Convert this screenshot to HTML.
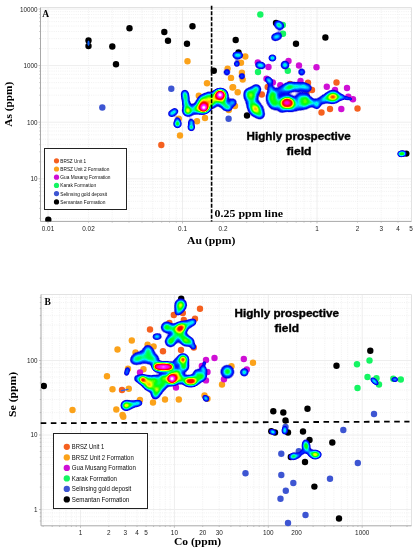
<!DOCTYPE html>
<html lang="en"><head><meta charset="utf-8"><title>Figure: As vs Au and Se vs Co</title>
<style>
html,body{margin:0;padding:0;background:#fff;}
body{width:416px;height:550px;overflow:hidden;}
svg{display:block;}
.sa{font-family:"Liberation Sans","DejaVu Sans",sans-serif;}
.sb{font-family:"Liberation Sans","DejaVu Sans",sans-serif;font-weight:bold;stroke:#000;stroke-width:0.35px;}
.se{font-family:"Liberation Serif","DejaVu Serif",serif;font-weight:bold;}
</style></head><body>
<svg width="416" height="550" viewBox="0 0 416 550"><defs><radialGradient id="k"><stop offset="0.000" stop-color="#fff" stop-opacity="1.0000"/><stop offset="0.083" stop-color="#fff" stop-opacity="0.9692"/><stop offset="0.167" stop-color="#fff" stop-opacity="0.8825"/><stop offset="0.250" stop-color="#fff" stop-opacity="0.7548"/><stop offset="0.333" stop-color="#fff" stop-opacity="0.6065"/><stop offset="0.417" stop-color="#fff" stop-opacity="0.4578"/><stop offset="0.500" stop-color="#fff" stop-opacity="0.3247"/><stop offset="0.583" stop-color="#fff" stop-opacity="0.2163"/><stop offset="0.667" stop-color="#fff" stop-opacity="0.1353"/><stop offset="0.750" stop-color="#fff" stop-opacity="0.0796"/><stop offset="0.833" stop-color="#fff" stop-opacity="0.0439"/><stop offset="0.917" stop-color="#fff" stop-opacity="0.0228"/><stop offset="1.000" stop-color="#fff" stop-opacity="0.0000"/></radialGradient><filter id="heat" x="0" y="0" width="416" height="550" filterUnits="userSpaceOnUse" color-interpolation-filters="sRGB">
<feColorMatrix type="matrix" values="0 0 0 1 0  0 0 0 1 0  0 0 0 1 0  0 0 0 1 0"/>
<feComponentTransfer><feFuncR type="table" tableValues="0 0 0 0 0 0 0 0 0 0 0 0 0 0 0.1 0.4 0.75 1 1 1 1 1 1 1 1 1 1 1 1 1 1 1 1 1 1 1 1 1 1 1 1"/><feFuncG type="table" tableValues="0 0 0 0 0 0 0.06 0.2 0.4 0.65 0.95 1 1 1 1 1 1 1 0.8 0.55 0.3 0.12 0 0 0 0 0 0 0 0 0 0 0.1 0.2 0.35 0.5 0.7 0.85 1 1 1"/><feFuncB type="table" tableValues="0.8 0.8 0.8 0.8 0.8 0.92 1 1 1 1 1 0.6 0.3 0.1 0 0 0 0 0 0 0 0 0 0 0.1 0.2 0.35 0.5 0.7 0.85 1 1 1 1 1 1 1 1 1 1 1"/><feFuncA type="table" tableValues="0 0 0 0 0.5 1 1 1 1 1 1 1 1 1 1 1 1 1 1 1 1 1 1 1 1 1 1 1 1 1 1 1 1 1 1 1 1 1 1 1 1"/></feComponentTransfer>
</filter><clipPath id="ca"><rect x="40.5" y="7.5" width="371.0" height="213.9"/></clipPath><clipPath id="cb"><rect x="41.0" y="294.5" width="370.5" height="231.29999999999995"/></clipPath></defs><rect width="416" height="550" fill="#fff"/><line x1="48.0" y1="7.5" x2="48.0" y2="221.4" stroke="#eeeeee" stroke-width="1"/><line x1="48.0" y1="221.4" x2="48.0" y2="223.4" stroke="#999" stroke-width="0.6"/><line x1="88.5" y1="7.5" x2="88.5" y2="221.4" stroke="#ebebeb" stroke-width="0.7" stroke-dasharray="1 1.2"/><line x1="88.5" y1="221.4" x2="88.5" y2="222.6" stroke="#999" stroke-width="0.6"/><line x1="112.2" y1="7.5" x2="112.2" y2="221.4" stroke="#ebebeb" stroke-width="0.7" stroke-dasharray="1 1.2"/><line x1="112.2" y1="221.4" x2="112.2" y2="222.6" stroke="#999" stroke-width="0.6"/><line x1="129.0" y1="7.5" x2="129.0" y2="221.4" stroke="#ebebeb" stroke-width="0.7" stroke-dasharray="1 1.2"/><line x1="129.0" y1="221.4" x2="129.0" y2="222.6" stroke="#999" stroke-width="0.6"/><line x1="142.0" y1="7.5" x2="142.0" y2="221.4" stroke="#ebebeb" stroke-width="0.7" stroke-dasharray="1 1.2"/><line x1="142.0" y1="221.4" x2="142.0" y2="222.6" stroke="#999" stroke-width="0.6"/><line x1="152.7" y1="7.5" x2="152.7" y2="221.4" stroke="#ebebeb" stroke-width="0.7" stroke-dasharray="1 1.2"/><line x1="152.7" y1="221.4" x2="152.7" y2="222.6" stroke="#999" stroke-width="0.6"/><line x1="161.7" y1="7.5" x2="161.7" y2="221.4" stroke="#ebebeb" stroke-width="0.7" stroke-dasharray="1 1.2"/><line x1="161.7" y1="221.4" x2="161.7" y2="222.6" stroke="#999" stroke-width="0.6"/><line x1="169.5" y1="7.5" x2="169.5" y2="221.4" stroke="#ebebeb" stroke-width="0.7" stroke-dasharray="1 1.2"/><line x1="169.5" y1="221.4" x2="169.5" y2="222.6" stroke="#999" stroke-width="0.6"/><line x1="176.3" y1="7.5" x2="176.3" y2="221.4" stroke="#ebebeb" stroke-width="0.7" stroke-dasharray="1 1.2"/><line x1="176.3" y1="221.4" x2="176.3" y2="222.6" stroke="#999" stroke-width="0.6"/><line x1="182.5" y1="7.5" x2="182.5" y2="221.4" stroke="#eeeeee" stroke-width="1"/><line x1="182.5" y1="221.4" x2="182.5" y2="223.4" stroke="#999" stroke-width="0.6"/><line x1="223.0" y1="7.5" x2="223.0" y2="221.4" stroke="#ebebeb" stroke-width="0.7" stroke-dasharray="1 1.2"/><line x1="223.0" y1="221.4" x2="223.0" y2="222.6" stroke="#999" stroke-width="0.6"/><line x1="246.7" y1="7.5" x2="246.7" y2="221.4" stroke="#ebebeb" stroke-width="0.7" stroke-dasharray="1 1.2"/><line x1="246.7" y1="221.4" x2="246.7" y2="222.6" stroke="#999" stroke-width="0.6"/><line x1="263.5" y1="7.5" x2="263.5" y2="221.4" stroke="#ebebeb" stroke-width="0.7" stroke-dasharray="1 1.2"/><line x1="263.5" y1="221.4" x2="263.5" y2="222.6" stroke="#999" stroke-width="0.6"/><line x1="276.5" y1="7.5" x2="276.5" y2="221.4" stroke="#ebebeb" stroke-width="0.7" stroke-dasharray="1 1.2"/><line x1="276.5" y1="221.4" x2="276.5" y2="222.6" stroke="#999" stroke-width="0.6"/><line x1="287.2" y1="7.5" x2="287.2" y2="221.4" stroke="#ebebeb" stroke-width="0.7" stroke-dasharray="1 1.2"/><line x1="287.2" y1="221.4" x2="287.2" y2="222.6" stroke="#999" stroke-width="0.6"/><line x1="296.2" y1="7.5" x2="296.2" y2="221.4" stroke="#ebebeb" stroke-width="0.7" stroke-dasharray="1 1.2"/><line x1="296.2" y1="221.4" x2="296.2" y2="222.6" stroke="#999" stroke-width="0.6"/><line x1="304.0" y1="7.5" x2="304.0" y2="221.4" stroke="#ebebeb" stroke-width="0.7" stroke-dasharray="1 1.2"/><line x1="304.0" y1="221.4" x2="304.0" y2="222.6" stroke="#999" stroke-width="0.6"/><line x1="310.8" y1="7.5" x2="310.8" y2="221.4" stroke="#ebebeb" stroke-width="0.7" stroke-dasharray="1 1.2"/><line x1="310.8" y1="221.4" x2="310.8" y2="222.6" stroke="#999" stroke-width="0.6"/><line x1="317.0" y1="7.5" x2="317.0" y2="221.4" stroke="#eeeeee" stroke-width="1"/><line x1="317.0" y1="221.4" x2="317.0" y2="223.4" stroke="#999" stroke-width="0.6"/><line x1="357.5" y1="7.5" x2="357.5" y2="221.4" stroke="#ebebeb" stroke-width="0.7" stroke-dasharray="1 1.2"/><line x1="357.5" y1="221.4" x2="357.5" y2="222.6" stroke="#999" stroke-width="0.6"/><line x1="381.2" y1="7.5" x2="381.2" y2="221.4" stroke="#ebebeb" stroke-width="0.7" stroke-dasharray="1 1.2"/><line x1="381.2" y1="221.4" x2="381.2" y2="222.6" stroke="#999" stroke-width="0.6"/><line x1="398.0" y1="7.5" x2="398.0" y2="221.4" stroke="#ebebeb" stroke-width="0.7" stroke-dasharray="1 1.2"/><line x1="398.0" y1="221.4" x2="398.0" y2="222.6" stroke="#999" stroke-width="0.6"/><line x1="40.5" y1="218.4" x2="411.5" y2="218.4" stroke="#ebebeb" stroke-width="0.7" stroke-dasharray="1 1.2"/><line x1="39.3" y1="218.4" x2="40.5" y2="218.4" stroke="#999" stroke-width="0.6"/><line x1="40.5" y1="208.4" x2="411.5" y2="208.4" stroke="#ebebeb" stroke-width="0.7" stroke-dasharray="1 1.2"/><line x1="39.3" y1="208.4" x2="40.5" y2="208.4" stroke="#999" stroke-width="0.6"/><line x1="40.5" y1="201.3" x2="411.5" y2="201.3" stroke="#ebebeb" stroke-width="0.7" stroke-dasharray="1 1.2"/><line x1="39.3" y1="201.3" x2="40.5" y2="201.3" stroke="#999" stroke-width="0.6"/><line x1="40.5" y1="195.8" x2="411.5" y2="195.8" stroke="#ebebeb" stroke-width="0.7" stroke-dasharray="1 1.2"/><line x1="39.3" y1="195.8" x2="40.5" y2="195.8" stroke="#999" stroke-width="0.6"/><line x1="40.5" y1="191.4" x2="411.5" y2="191.4" stroke="#ebebeb" stroke-width="0.7" stroke-dasharray="1 1.2"/><line x1="39.3" y1="191.4" x2="40.5" y2="191.4" stroke="#999" stroke-width="0.6"/><line x1="40.5" y1="187.6" x2="411.5" y2="187.6" stroke="#ebebeb" stroke-width="0.7" stroke-dasharray="1 1.2"/><line x1="39.3" y1="187.6" x2="40.5" y2="187.6" stroke="#999" stroke-width="0.6"/><line x1="40.5" y1="184.3" x2="411.5" y2="184.3" stroke="#ebebeb" stroke-width="0.7" stroke-dasharray="1 1.2"/><line x1="39.3" y1="184.3" x2="40.5" y2="184.3" stroke="#999" stroke-width="0.6"/><line x1="40.5" y1="181.4" x2="411.5" y2="181.4" stroke="#ebebeb" stroke-width="0.7" stroke-dasharray="1 1.2"/><line x1="39.3" y1="181.4" x2="40.5" y2="181.4" stroke="#999" stroke-width="0.6"/><line x1="40.5" y1="178.8" x2="411.5" y2="178.8" stroke="#eeeeee" stroke-width="1"/><line x1="38.5" y1="178.8" x2="40.5" y2="178.8" stroke="#999" stroke-width="0.6"/><line x1="40.5" y1="161.8" x2="411.5" y2="161.8" stroke="#ebebeb" stroke-width="0.7" stroke-dasharray="1 1.2"/><line x1="39.3" y1="161.8" x2="40.5" y2="161.8" stroke="#999" stroke-width="0.6"/><line x1="40.5" y1="151.8" x2="411.5" y2="151.8" stroke="#ebebeb" stroke-width="0.7" stroke-dasharray="1 1.2"/><line x1="39.3" y1="151.8" x2="40.5" y2="151.8" stroke="#999" stroke-width="0.6"/><line x1="40.5" y1="144.7" x2="411.5" y2="144.7" stroke="#ebebeb" stroke-width="0.7" stroke-dasharray="1 1.2"/><line x1="39.3" y1="144.7" x2="40.5" y2="144.7" stroke="#999" stroke-width="0.6"/><line x1="40.5" y1="139.2" x2="411.5" y2="139.2" stroke="#ebebeb" stroke-width="0.7" stroke-dasharray="1 1.2"/><line x1="39.3" y1="139.2" x2="40.5" y2="139.2" stroke="#999" stroke-width="0.6"/><line x1="40.5" y1="134.8" x2="411.5" y2="134.8" stroke="#ebebeb" stroke-width="0.7" stroke-dasharray="1 1.2"/><line x1="39.3" y1="134.8" x2="40.5" y2="134.8" stroke="#999" stroke-width="0.6"/><line x1="40.5" y1="131.0" x2="411.5" y2="131.0" stroke="#ebebeb" stroke-width="0.7" stroke-dasharray="1 1.2"/><line x1="39.3" y1="131.0" x2="40.5" y2="131.0" stroke="#999" stroke-width="0.6"/><line x1="40.5" y1="127.7" x2="411.5" y2="127.7" stroke="#ebebeb" stroke-width="0.7" stroke-dasharray="1 1.2"/><line x1="39.3" y1="127.7" x2="40.5" y2="127.7" stroke="#999" stroke-width="0.6"/><line x1="40.5" y1="124.8" x2="411.5" y2="124.8" stroke="#ebebeb" stroke-width="0.7" stroke-dasharray="1 1.2"/><line x1="39.3" y1="124.8" x2="40.5" y2="124.8" stroke="#999" stroke-width="0.6"/><line x1="40.5" y1="122.2" x2="411.5" y2="122.2" stroke="#eeeeee" stroke-width="1"/><line x1="38.5" y1="122.2" x2="40.5" y2="122.2" stroke="#999" stroke-width="0.6"/><line x1="40.5" y1="105.2" x2="411.5" y2="105.2" stroke="#ebebeb" stroke-width="0.7" stroke-dasharray="1 1.2"/><line x1="39.3" y1="105.2" x2="40.5" y2="105.2" stroke="#999" stroke-width="0.6"/><line x1="40.5" y1="95.2" x2="411.5" y2="95.2" stroke="#ebebeb" stroke-width="0.7" stroke-dasharray="1 1.2"/><line x1="39.3" y1="95.2" x2="40.5" y2="95.2" stroke="#999" stroke-width="0.6"/><line x1="40.5" y1="88.1" x2="411.5" y2="88.1" stroke="#ebebeb" stroke-width="0.7" stroke-dasharray="1 1.2"/><line x1="39.3" y1="88.1" x2="40.5" y2="88.1" stroke="#999" stroke-width="0.6"/><line x1="40.5" y1="82.6" x2="411.5" y2="82.6" stroke="#ebebeb" stroke-width="0.7" stroke-dasharray="1 1.2"/><line x1="39.3" y1="82.6" x2="40.5" y2="82.6" stroke="#999" stroke-width="0.6"/><line x1="40.5" y1="78.2" x2="411.5" y2="78.2" stroke="#ebebeb" stroke-width="0.7" stroke-dasharray="1 1.2"/><line x1="39.3" y1="78.2" x2="40.5" y2="78.2" stroke="#999" stroke-width="0.6"/><line x1="40.5" y1="74.4" x2="411.5" y2="74.4" stroke="#ebebeb" stroke-width="0.7" stroke-dasharray="1 1.2"/><line x1="39.3" y1="74.4" x2="40.5" y2="74.4" stroke="#999" stroke-width="0.6"/><line x1="40.5" y1="71.1" x2="411.5" y2="71.1" stroke="#ebebeb" stroke-width="0.7" stroke-dasharray="1 1.2"/><line x1="39.3" y1="71.1" x2="40.5" y2="71.1" stroke="#999" stroke-width="0.6"/><line x1="40.5" y1="68.2" x2="411.5" y2="68.2" stroke="#ebebeb" stroke-width="0.7" stroke-dasharray="1 1.2"/><line x1="39.3" y1="68.2" x2="40.5" y2="68.2" stroke="#999" stroke-width="0.6"/><line x1="40.5" y1="65.6" x2="411.5" y2="65.6" stroke="#eeeeee" stroke-width="1"/><line x1="38.5" y1="65.6" x2="40.5" y2="65.6" stroke="#999" stroke-width="0.6"/><line x1="40.5" y1="48.6" x2="411.5" y2="48.6" stroke="#ebebeb" stroke-width="0.7" stroke-dasharray="1 1.2"/><line x1="39.3" y1="48.6" x2="40.5" y2="48.6" stroke="#999" stroke-width="0.6"/><line x1="40.5" y1="38.6" x2="411.5" y2="38.6" stroke="#ebebeb" stroke-width="0.7" stroke-dasharray="1 1.2"/><line x1="39.3" y1="38.6" x2="40.5" y2="38.6" stroke="#999" stroke-width="0.6"/><line x1="40.5" y1="31.5" x2="411.5" y2="31.5" stroke="#ebebeb" stroke-width="0.7" stroke-dasharray="1 1.2"/><line x1="39.3" y1="31.5" x2="40.5" y2="31.5" stroke="#999" stroke-width="0.6"/><line x1="40.5" y1="26.0" x2="411.5" y2="26.0" stroke="#ebebeb" stroke-width="0.7" stroke-dasharray="1 1.2"/><line x1="39.3" y1="26.0" x2="40.5" y2="26.0" stroke="#999" stroke-width="0.6"/><line x1="40.5" y1="21.6" x2="411.5" y2="21.6" stroke="#ebebeb" stroke-width="0.7" stroke-dasharray="1 1.2"/><line x1="39.3" y1="21.6" x2="40.5" y2="21.6" stroke="#999" stroke-width="0.6"/><line x1="40.5" y1="17.8" x2="411.5" y2="17.8" stroke="#ebebeb" stroke-width="0.7" stroke-dasharray="1 1.2"/><line x1="39.3" y1="17.8" x2="40.5" y2="17.8" stroke="#999" stroke-width="0.6"/><line x1="40.5" y1="14.5" x2="411.5" y2="14.5" stroke="#ebebeb" stroke-width="0.7" stroke-dasharray="1 1.2"/><line x1="39.3" y1="14.5" x2="40.5" y2="14.5" stroke="#999" stroke-width="0.6"/><line x1="40.5" y1="11.6" x2="411.5" y2="11.6" stroke="#ebebeb" stroke-width="0.7" stroke-dasharray="1 1.2"/><line x1="39.3" y1="11.6" x2="40.5" y2="11.6" stroke="#999" stroke-width="0.6"/><line x1="40.5" y1="9.0" x2="411.5" y2="9.0" stroke="#eeeeee" stroke-width="1"/><line x1="38.5" y1="9.0" x2="40.5" y2="9.0" stroke="#999" stroke-width="0.6"/><path d="M40.5 7.5H411.5V221.4" fill="none" stroke="#e2e2e2" stroke-width="1"/><path d="M40.5 7.5V221.4H411.5" fill="none" stroke="#a8a8a8" stroke-width="1"/><g clip-path="url(#ca)"><circle cx="48.3" cy="219.8" r="3.2" fill="#000000"/></g><circle cx="187.5" cy="61.3" r="3.2" fill="#fba21a"/><circle cx="207" cy="83.3" r="3.2" fill="#fba21a"/><circle cx="198.8" cy="95.8" r="3.2" fill="#fba21a"/><circle cx="178.8" cy="118.8" r="3.2" fill="#fba21a"/><circle cx="197" cy="121.3" r="3.2" fill="#fba21a"/><circle cx="205" cy="118" r="3.2" fill="#fba21a"/><circle cx="180" cy="135.5" r="3.2" fill="#fba21a"/><circle cx="228.8" cy="110" r="3.2" fill="#fba21a"/><circle cx="232.5" cy="87.5" r="3.2" fill="#fba21a"/><circle cx="245.3" cy="56.5" r="3.2" fill="#fba21a"/><circle cx="241" cy="62.7" r="3.2" fill="#fba21a"/><circle cx="227.6" cy="68.6" r="3.2" fill="#fba21a"/><circle cx="231" cy="77.9" r="3.2" fill="#fba21a"/><circle cx="241.9" cy="72.8" r="3.2" fill="#fba21a"/><circle cx="242.7" cy="79.6" r="3.2" fill="#fba21a"/><circle cx="233.1" cy="87.1" r="3.2" fill="#fba21a"/><circle cx="237.7" cy="92.2" r="3.2" fill="#fba21a"/><circle cx="235" cy="106" r="3.2" fill="#fba21a"/><circle cx="261.8" cy="94.5" r="3.2" fill="#f5601f"/><circle cx="267.7" cy="87" r="3.2" fill="#f5601f"/><circle cx="308" cy="82.7" r="3.2" fill="#f5601f"/><circle cx="161.3" cy="145" r="3.2" fill="#f5601f"/><circle cx="336.5" cy="82.5" r="3.2" fill="#f5601f"/><circle cx="357.5" cy="108.5" r="3.2" fill="#f5601f"/><circle cx="330" cy="109" r="3.2" fill="#f5601f"/><circle cx="321.5" cy="112.5" r="3.2" fill="#f5601f"/><circle cx="312" cy="90" r="3.2" fill="#f5601f"/><circle cx="306.5" cy="93.8" r="3.2" fill="#f5601f"/><circle cx="290" cy="84" r="3.2" fill="#f5601f"/><circle cx="300.5" cy="81" r="3.2" fill="#cf0fd5"/><circle cx="296.3" cy="88.6" r="3.2" fill="#cf0fd5"/><circle cx="280.3" cy="85.3" r="3.2" fill="#cf0fd5"/><circle cx="257.8" cy="62.5" r="3.2" fill="#cf0fd5"/><circle cx="268.5" cy="67" r="3.2" fill="#cf0fd5"/><circle cx="288.5" cy="61" r="3.2" fill="#cf0fd5"/><circle cx="299" cy="65.5" r="3.2" fill="#cf0fd5"/><circle cx="316.5" cy="67.3" r="3.2" fill="#cf0fd5"/><circle cx="326.8" cy="86.8" r="3.2" fill="#cf0fd5"/><circle cx="266.5" cy="78.8" r="3.2" fill="#cf0fd5"/><circle cx="272.8" cy="82.5" r="3.2" fill="#cf0fd5"/><circle cx="335" cy="90" r="3.2" fill="#cf0fd5"/><circle cx="347" cy="88" r="3.2" fill="#cf0fd5"/><circle cx="353" cy="99.2" r="3.2" fill="#cf0fd5"/><circle cx="348.3" cy="96.6" r="3.2" fill="#cf0fd5"/><circle cx="341.3" cy="109" r="3.2" fill="#cf0fd5"/><circle cx="260.3" cy="14.5" r="3.2" fill="#14f562"/><circle cx="282.8" cy="25" r="3.2" fill="#14f562"/><circle cx="283" cy="33.8" r="3.2" fill="#14f562"/><circle cx="258" cy="72" r="3.2" fill="#14f562"/><circle cx="287.8" cy="70.8" r="3.2" fill="#14f562"/><circle cx="102.3" cy="107.5" r="3.2" fill="#3d55d2"/><circle cx="171.3" cy="88.8" r="3.2" fill="#3d55d2"/><circle cx="228.6" cy="118.8" r="3.2" fill="#3d55d2"/><circle cx="88.5" cy="40.5" r="3.2" fill="#000000"/><circle cx="88.5" cy="46" r="3.2" fill="#000000"/><circle cx="112.3" cy="46.5" r="3.2" fill="#000000"/><circle cx="129.5" cy="28.3" r="3.2" fill="#000000"/><circle cx="116" cy="64.3" r="3.2" fill="#000000"/><circle cx="164.3" cy="32" r="3.2" fill="#000000"/><circle cx="168" cy="40.8" r="3.2" fill="#000000"/><circle cx="192.5" cy="26.3" r="3.2" fill="#000000"/><circle cx="187" cy="43.8" r="3.2" fill="#000000"/><circle cx="213.8" cy="70.8" r="3.2" fill="#000000"/><circle cx="235.7" cy="40" r="3.2" fill="#000000"/><circle cx="296" cy="43.8" r="3.2" fill="#000000"/><circle cx="325.4" cy="37.5" r="3.2" fill="#000000"/><circle cx="247" cy="115.5" r="3.2" fill="#000000"/><circle cx="406.3" cy="153.6" r="3.2" fill="#000000"/><circle cx="276" cy="23" r="3.2" fill="#000000"/><circle cx="238.5" cy="52.5" r="3.2" fill="#000000"/><ellipse cx="88.5" cy="43.3" rx="1.1" ry="2.8" fill="#0a60ff"/><g filter="url(#heat)"><circle cx="184.8" cy="93.5" r="8.25" fill="url(#k)" opacity="0.23"/><circle cx="185.5" cy="98" r="8.25" fill="url(#k)" opacity="0.22"/><circle cx="186" cy="103" r="8.25" fill="url(#k)" opacity="0.22"/><circle cx="187.8" cy="111" r="10.20" fill="url(#k)" opacity="0.4"/><circle cx="186.8" cy="107" r="7.50" fill="url(#k)" opacity="0.1"/><circle cx="203" cy="99" r="10.20" fill="url(#k)" opacity="0.2"/><circle cx="208.5" cy="96" r="9.60" fill="url(#k)" opacity="0.17"/><circle cx="223" cy="102.5" r="9.60" fill="url(#k)" opacity="0.22"/><circle cx="225.5" cy="107" r="9.00" fill="url(#k)" opacity="0.18"/><circle cx="197" cy="108.8" r="11.40" fill="url(#k)" opacity="0.3"/><circle cx="204" cy="105.5" r="12.60" fill="url(#k)" opacity="0.3"/><circle cx="211" cy="101.8" r="12.60" fill="url(#k)" opacity="0.36"/><circle cx="217.5" cy="97" r="12.60" fill="url(#k)" opacity="0.3"/><circle cx="223" cy="95.5" r="11.40" fill="url(#k)" opacity="0.25"/><circle cx="201" cy="102" r="9.60" fill="url(#k)" opacity="0.12"/><circle cx="203.8" cy="107.6" r="9.00" fill="url(#k)" opacity="0.92"/><circle cx="220" cy="94.8" r="9.00" fill="url(#k)" opacity="0.92"/><circle cx="232.8" cy="102.5" r="9.00" fill="url(#k)" opacity="0.22"/><circle cx="229" cy="108" r="7.80" fill="url(#k)" opacity="0.16"/><circle cx="171.3" cy="113.8" r="7.50" fill="url(#k)" opacity="0.21"/><circle cx="175" cy="111.3" r="7.50" fill="url(#k)" opacity="0.21"/><circle cx="177.5" cy="124" r="8.10" fill="url(#k)" opacity="0.32"/><circle cx="177.5" cy="119.5" r="6.60" fill="url(#k)" opacity="0.13"/><circle cx="191.3" cy="122" r="7.20" fill="url(#k)" opacity="0.21"/><circle cx="191.3" cy="127.5" r="7.50" fill="url(#k)" opacity="0.28"/><circle cx="235.6" cy="55.2" r="7.80" fill="url(#k)" opacity="0.2"/><circle cx="239.9" cy="55.3" r="7.80" fill="url(#k)" opacity="0.2"/><circle cx="236.8" cy="63.9" r="7.20" fill="url(#k)" opacity="0.2"/><circle cx="226.9" cy="72.2" r="8.70" fill="url(#k)" opacity="0.18"/><circle cx="241.9" cy="76.2" r="8.40" fill="url(#k)" opacity="0.18"/><circle cx="258.6" cy="65" r="8.10" fill="url(#k)" opacity="0.2"/><circle cx="262.6" cy="65.7" r="7.80" fill="url(#k)" opacity="0.18"/><circle cx="271.4" cy="58" r="7.20" fill="url(#k)" opacity="0.16"/><circle cx="273.4" cy="58" r="7.20" fill="url(#k)" opacity="0.16"/><circle cx="285" cy="65" r="9.00" fill="url(#k)" opacity="0.27"/><circle cx="301.7" cy="72" r="8.70" fill="url(#k)" opacity="0.2"/><circle cx="267.8" cy="79.3" r="7.50" fill="url(#k)" opacity="0.17"/><circle cx="270.3" cy="81.8" r="7.50" fill="url(#k)" opacity="0.17"/><circle cx="277.5" cy="24.2" r="8.64" fill="url(#k)" opacity="0.19"/><circle cx="280.5" cy="26.2" r="8.64" fill="url(#k)" opacity="0.19"/><circle cx="274.5" cy="37.5" r="8.64" fill="url(#k)" opacity="0.18"/><circle cx="278.7" cy="36" r="8.64" fill="url(#k)" opacity="0.18"/><circle cx="251" cy="96" r="13.80" fill="url(#k)" opacity="0.36"/><circle cx="256.5" cy="88.8" r="9.90" fill="url(#k)" opacity="0.24"/><circle cx="248.5" cy="92" r="9.00" fill="url(#k)" opacity="0.1"/><circle cx="255.5" cy="109" r="13.20" fill="url(#k)" opacity="0.44"/><circle cx="251" cy="104.5" r="9.60" fill="url(#k)" opacity="0.13"/><circle cx="260.3" cy="114.8" r="10.20" fill="url(#k)" opacity="0.2"/><circle cx="285.5" cy="102.8" r="11.40" fill="url(#k)" opacity="0.62"/><circle cx="289.8" cy="102.8" r="11.40" fill="url(#k)" opacity="0.5"/><circle cx="272.8" cy="94.4" r="12.00" fill="url(#k)" opacity="0.29"/><circle cx="274.5" cy="103.5" r="12.90" fill="url(#k)" opacity="0.3"/><circle cx="270.3" cy="99" r="9.60" fill="url(#k)" opacity="0.13"/><circle cx="270.5" cy="88" r="7.20" fill="url(#k)" opacity="0.15"/><circle cx="285.5" cy="88.5" r="10.50" fill="url(#k)" opacity="0.19"/><circle cx="290.5" cy="86.8" r="10.50" fill="url(#k)" opacity="0.25"/><circle cx="280" cy="90.5" r="9.36" fill="url(#k)" opacity="0.12"/><circle cx="297.2" cy="86.6" r="9.75" fill="url(#k)" opacity="0.21"/><circle cx="303.4" cy="86.3" r="9.36" fill="url(#k)" opacity="0.21"/><circle cx="308.5" cy="88" r="8.64" fill="url(#k)" opacity="0.18"/><circle cx="305" cy="103" r="12.60" fill="url(#k)" opacity="0.3"/><circle cx="300" cy="97.5" r="10.80" fill="url(#k)" opacity="0.18"/><circle cx="306.5" cy="98" r="9.60" fill="url(#k)" opacity="0.16"/><circle cx="298" cy="106.5" r="11.25" fill="url(#k)" opacity="0.14"/><circle cx="282" cy="110" r="9.75" fill="url(#k)" opacity="0.12"/><circle cx="292" cy="109" r="9.75" fill="url(#k)" opacity="0.1"/><circle cx="332.9" cy="96.9" r="12.00" fill="url(#k)" opacity="0.45"/><circle cx="328.5" cy="97.5" r="9.30" fill="url(#k)" opacity="0.15"/><circle cx="337.3" cy="96.8" r="9.00" fill="url(#k)" opacity="0.15"/><circle cx="323" cy="99.5" r="9.90" fill="url(#k)" opacity="0.2"/><circle cx="317" cy="102.8" r="9.00" fill="url(#k)" opacity="0.18"/><circle cx="311.5" cy="102.5" r="8.40" fill="url(#k)" opacity="0.15"/><circle cx="316.9" cy="106.5" r="7.50" fill="url(#k)" opacity="0.13"/><circle cx="342.5" cy="97.3" r="6.60" fill="url(#k)" opacity="0.17"/><circle cx="347" cy="98.3" r="5.10" fill="url(#k)" opacity="0.16"/><circle cx="350.5" cy="99" r="4.50" fill="url(#k)" opacity="0.15"/><circle cx="400.3" cy="153.9" r="6.30" fill="url(#k)" opacity="0.27"/><circle cx="403.6" cy="153.6" r="6.30" fill="url(#k)" opacity="0.26"/></g><line x1="211.6" y1="5.8" x2="211.6" y2="221.4" stroke="#000" stroke-width="1.6" stroke-dasharray="4 1.5"/><rect x="44.5" y="148.5" width="82.0" height="61.0" fill="#fff" stroke="#222" stroke-width="1"/><circle cx="56.5" cy="160.8" r="2.6" fill="#f5601f"/><text x="60.3" y="162.82" font-size="5.6" class="sa" fill="#0c0c0c" textLength="25.8" lengthAdjust="spacingAndGlyphs">BRSZ Unit 1</text><circle cx="56.5" cy="169" r="2.6" fill="#fba21a"/><text x="60.3" y="171.02" font-size="5.6" class="sa" fill="#0c0c0c" textLength="49" lengthAdjust="spacingAndGlyphs">BRSZ Unit 2 Formation</text><circle cx="56.5" cy="177.2" r="2.6" fill="#cf0fd5"/><text x="60.3" y="179.22" font-size="5.6" class="sa" fill="#0c0c0c" textLength="50.2" lengthAdjust="spacingAndGlyphs">Gua Musang Formation</text><circle cx="56.5" cy="185.4" r="2.6" fill="#14f562"/><text x="60.3" y="187.42" font-size="5.6" class="sa" fill="#0c0c0c" textLength="35.8" lengthAdjust="spacingAndGlyphs">Karak Formation</text><circle cx="56.5" cy="193.6" r="2.6" fill="#3d55d2"/><text x="60.3" y="195.62" font-size="5.6" class="sa" fill="#0c0c0c" textLength="46.8" lengthAdjust="spacingAndGlyphs">Selinsing gold deposit</text><circle cx="56.5" cy="201.9" r="2.6" fill="#000000"/><text x="60.3" y="203.92" font-size="5.6" class="sa" fill="#0c0c0c" textLength="45.2" lengthAdjust="spacingAndGlyphs">Semantan Formation</text><text x="48.0" y="230.5" font-size="6.4" class="sa" text-anchor="middle" fill="#222">0.01</text><text x="88.5" y="230.5" font-size="6.4" class="sa" text-anchor="middle" fill="#222">0.02</text><text x="182.5" y="230.5" font-size="6.4" class="sa" text-anchor="middle" fill="#222">0.1</text><text x="223.0" y="230.5" font-size="6.4" class="sa" text-anchor="middle" fill="#222">0.2</text><text x="317.0" y="230.5" font-size="6.4" class="sa" text-anchor="middle" fill="#222">1</text><text x="357.5" y="230.5" font-size="6.4" class="sa" text-anchor="middle" fill="#222">2</text><text x="381.2" y="230.5" font-size="6.4" class="sa" text-anchor="middle" fill="#222">3</text><text x="398.0" y="230.5" font-size="6.4" class="sa" text-anchor="middle" fill="#222">4</text><text x="411.0" y="230.5" font-size="6.4" class="sa" text-anchor="middle" fill="#222">5</text><text x="37.5" y="12.4" font-size="6.3" class="sa" text-anchor="end" fill="#222">10000</text><text x="37.5" y="67.9" font-size="6.3" class="sa" text-anchor="end" fill="#222">1000</text><text x="37.5" y="124.5" font-size="6.3" class="sa" text-anchor="end" fill="#222">100</text><text x="37.5" y="181.1" font-size="6.3" class="sa" text-anchor="end" fill="#222">10</text><text x="42.2" y="16.6" font-size="9.5" class="se">A</text><text x="214.6" y="216.6" font-size="10.6" class="se" textLength="68.5" lengthAdjust="spacingAndGlyphs">0.25 ppm line</text><text x="187" y="243.5" font-size="11.2" class="se" textLength="48.4" lengthAdjust="spacingAndGlyphs">Au (ppm)</text><text transform="translate(12,126.7) rotate(-90)" font-size="11.2" class="se" textLength="45" lengthAdjust="spacingAndGlyphs">As (ppm)</text><text x="246.5" y="139.5" font-size="10.4" class="sb" textLength="104.3" lengthAdjust="spacingAndGlyphs">Highly prospective</text><text x="286.5" y="155" font-size="10.4" class="sb" textLength="25" lengthAdjust="spacingAndGlyphs">field</text><line x1="43.1" y1="294.5" x2="43.1" y2="525.8" stroke="#ebebeb" stroke-width="0.7" stroke-dasharray="1 1.2"/><line x1="43.1" y1="525.8" x2="43.1" y2="527.0" stroke="#999" stroke-width="0.6"/><line x1="52.2" y1="294.5" x2="52.2" y2="525.8" stroke="#ebebeb" stroke-width="0.7" stroke-dasharray="1 1.2"/><line x1="52.2" y1="525.8" x2="52.2" y2="527.0" stroke="#999" stroke-width="0.6"/><line x1="59.7" y1="294.5" x2="59.7" y2="525.8" stroke="#ebebeb" stroke-width="0.7" stroke-dasharray="1 1.2"/><line x1="59.7" y1="525.8" x2="59.7" y2="527.0" stroke="#999" stroke-width="0.6"/><line x1="66.0" y1="294.5" x2="66.0" y2="525.8" stroke="#ebebeb" stroke-width="0.7" stroke-dasharray="1 1.2"/><line x1="66.0" y1="525.8" x2="66.0" y2="527.0" stroke="#999" stroke-width="0.6"/><line x1="71.4" y1="294.5" x2="71.4" y2="525.8" stroke="#ebebeb" stroke-width="0.7" stroke-dasharray="1 1.2"/><line x1="71.4" y1="525.8" x2="71.4" y2="527.0" stroke="#999" stroke-width="0.6"/><line x1="76.2" y1="294.5" x2="76.2" y2="525.8" stroke="#ebebeb" stroke-width="0.7" stroke-dasharray="1 1.2"/><line x1="76.2" y1="525.8" x2="76.2" y2="527.0" stroke="#999" stroke-width="0.6"/><line x1="80.5" y1="294.5" x2="80.5" y2="525.8" stroke="#eeeeee" stroke-width="1"/><line x1="80.5" y1="525.8" x2="80.5" y2="527.8" stroke="#999" stroke-width="0.6"/><line x1="108.8" y1="294.5" x2="108.8" y2="525.8" stroke="#ebebeb" stroke-width="0.7" stroke-dasharray="1 1.2"/><line x1="108.8" y1="525.8" x2="108.8" y2="527.0" stroke="#999" stroke-width="0.6"/><line x1="125.3" y1="294.5" x2="125.3" y2="525.8" stroke="#ebebeb" stroke-width="0.7" stroke-dasharray="1 1.2"/><line x1="125.3" y1="525.8" x2="125.3" y2="527.0" stroke="#999" stroke-width="0.6"/><line x1="137.0" y1="294.5" x2="137.0" y2="525.8" stroke="#ebebeb" stroke-width="0.7" stroke-dasharray="1 1.2"/><line x1="137.0" y1="525.8" x2="137.0" y2="527.0" stroke="#999" stroke-width="0.6"/><line x1="146.1" y1="294.5" x2="146.1" y2="525.8" stroke="#ebebeb" stroke-width="0.7" stroke-dasharray="1 1.2"/><line x1="146.1" y1="525.8" x2="146.1" y2="527.0" stroke="#999" stroke-width="0.6"/><line x1="153.6" y1="294.5" x2="153.6" y2="525.8" stroke="#ebebeb" stroke-width="0.7" stroke-dasharray="1 1.2"/><line x1="153.6" y1="525.8" x2="153.6" y2="527.0" stroke="#999" stroke-width="0.6"/><line x1="159.9" y1="294.5" x2="159.9" y2="525.8" stroke="#ebebeb" stroke-width="0.7" stroke-dasharray="1 1.2"/><line x1="159.9" y1="525.8" x2="159.9" y2="527.0" stroke="#999" stroke-width="0.6"/><line x1="165.3" y1="294.5" x2="165.3" y2="525.8" stroke="#ebebeb" stroke-width="0.7" stroke-dasharray="1 1.2"/><line x1="165.3" y1="525.8" x2="165.3" y2="527.0" stroke="#999" stroke-width="0.6"/><line x1="170.1" y1="294.5" x2="170.1" y2="525.8" stroke="#ebebeb" stroke-width="0.7" stroke-dasharray="1 1.2"/><line x1="170.1" y1="525.8" x2="170.1" y2="527.0" stroke="#999" stroke-width="0.6"/><line x1="174.4" y1="294.5" x2="174.4" y2="525.8" stroke="#eeeeee" stroke-width="1"/><line x1="174.4" y1="525.8" x2="174.4" y2="527.8" stroke="#999" stroke-width="0.6"/><line x1="202.7" y1="294.5" x2="202.7" y2="525.8" stroke="#ebebeb" stroke-width="0.7" stroke-dasharray="1 1.2"/><line x1="202.7" y1="525.8" x2="202.7" y2="527.0" stroke="#999" stroke-width="0.6"/><line x1="219.2" y1="294.5" x2="219.2" y2="525.8" stroke="#ebebeb" stroke-width="0.7" stroke-dasharray="1 1.2"/><line x1="219.2" y1="525.8" x2="219.2" y2="527.0" stroke="#999" stroke-width="0.6"/><line x1="230.9" y1="294.5" x2="230.9" y2="525.8" stroke="#ebebeb" stroke-width="0.7" stroke-dasharray="1 1.2"/><line x1="230.9" y1="525.8" x2="230.9" y2="527.0" stroke="#999" stroke-width="0.6"/><line x1="240.0" y1="294.5" x2="240.0" y2="525.8" stroke="#ebebeb" stroke-width="0.7" stroke-dasharray="1 1.2"/><line x1="240.0" y1="525.8" x2="240.0" y2="527.0" stroke="#999" stroke-width="0.6"/><line x1="247.5" y1="294.5" x2="247.5" y2="525.8" stroke="#ebebeb" stroke-width="0.7" stroke-dasharray="1 1.2"/><line x1="247.5" y1="525.8" x2="247.5" y2="527.0" stroke="#999" stroke-width="0.6"/><line x1="253.8" y1="294.5" x2="253.8" y2="525.8" stroke="#ebebeb" stroke-width="0.7" stroke-dasharray="1 1.2"/><line x1="253.8" y1="525.8" x2="253.8" y2="527.0" stroke="#999" stroke-width="0.6"/><line x1="259.2" y1="294.5" x2="259.2" y2="525.8" stroke="#ebebeb" stroke-width="0.7" stroke-dasharray="1 1.2"/><line x1="259.2" y1="525.8" x2="259.2" y2="527.0" stroke="#999" stroke-width="0.6"/><line x1="264.0" y1="294.5" x2="264.0" y2="525.8" stroke="#ebebeb" stroke-width="0.7" stroke-dasharray="1 1.2"/><line x1="264.0" y1="525.8" x2="264.0" y2="527.0" stroke="#999" stroke-width="0.6"/><line x1="268.3" y1="294.5" x2="268.3" y2="525.8" stroke="#eeeeee" stroke-width="1"/><line x1="268.3" y1="525.8" x2="268.3" y2="527.8" stroke="#999" stroke-width="0.6"/><line x1="296.6" y1="294.5" x2="296.6" y2="525.8" stroke="#ebebeb" stroke-width="0.7" stroke-dasharray="1 1.2"/><line x1="296.6" y1="525.8" x2="296.6" y2="527.0" stroke="#999" stroke-width="0.6"/><line x1="313.1" y1="294.5" x2="313.1" y2="525.8" stroke="#ebebeb" stroke-width="0.7" stroke-dasharray="1 1.2"/><line x1="313.1" y1="525.8" x2="313.1" y2="527.0" stroke="#999" stroke-width="0.6"/><line x1="324.8" y1="294.5" x2="324.8" y2="525.8" stroke="#ebebeb" stroke-width="0.7" stroke-dasharray="1 1.2"/><line x1="324.8" y1="525.8" x2="324.8" y2="527.0" stroke="#999" stroke-width="0.6"/><line x1="333.9" y1="294.5" x2="333.9" y2="525.8" stroke="#ebebeb" stroke-width="0.7" stroke-dasharray="1 1.2"/><line x1="333.9" y1="525.8" x2="333.9" y2="527.0" stroke="#999" stroke-width="0.6"/><line x1="341.4" y1="294.5" x2="341.4" y2="525.8" stroke="#ebebeb" stroke-width="0.7" stroke-dasharray="1 1.2"/><line x1="341.4" y1="525.8" x2="341.4" y2="527.0" stroke="#999" stroke-width="0.6"/><line x1="347.7" y1="294.5" x2="347.7" y2="525.8" stroke="#ebebeb" stroke-width="0.7" stroke-dasharray="1 1.2"/><line x1="347.7" y1="525.8" x2="347.7" y2="527.0" stroke="#999" stroke-width="0.6"/><line x1="353.1" y1="294.5" x2="353.1" y2="525.8" stroke="#ebebeb" stroke-width="0.7" stroke-dasharray="1 1.2"/><line x1="353.1" y1="525.8" x2="353.1" y2="527.0" stroke="#999" stroke-width="0.6"/><line x1="357.9" y1="294.5" x2="357.9" y2="525.8" stroke="#ebebeb" stroke-width="0.7" stroke-dasharray="1 1.2"/><line x1="357.9" y1="525.8" x2="357.9" y2="527.0" stroke="#999" stroke-width="0.6"/><line x1="362.2" y1="294.5" x2="362.2" y2="525.8" stroke="#eeeeee" stroke-width="1"/><line x1="362.2" y1="525.8" x2="362.2" y2="527.8" stroke="#999" stroke-width="0.6"/><line x1="390.5" y1="294.5" x2="390.5" y2="525.8" stroke="#ebebeb" stroke-width="0.7" stroke-dasharray="1 1.2"/><line x1="390.5" y1="525.8" x2="390.5" y2="527.0" stroke="#999" stroke-width="0.6"/><line x1="407.0" y1="294.5" x2="407.0" y2="525.8" stroke="#ebebeb" stroke-width="0.7" stroke-dasharray="1 1.2"/><line x1="407.0" y1="525.8" x2="407.0" y2="527.0" stroke="#999" stroke-width="0.6"/><line x1="41.0" y1="521.0" x2="411.5" y2="521.0" stroke="#ebebeb" stroke-width="0.7" stroke-dasharray="1 1.2"/><line x1="39.8" y1="521.0" x2="41.0" y2="521.0" stroke="#999" stroke-width="0.6"/><line x1="41.0" y1="516.7" x2="411.5" y2="516.7" stroke="#ebebeb" stroke-width="0.7" stroke-dasharray="1 1.2"/><line x1="39.8" y1="516.7" x2="41.0" y2="516.7" stroke="#999" stroke-width="0.6"/><line x1="41.0" y1="512.9" x2="411.5" y2="512.9" stroke="#ebebeb" stroke-width="0.7" stroke-dasharray="1 1.2"/><line x1="39.8" y1="512.9" x2="41.0" y2="512.9" stroke="#999" stroke-width="0.6"/><line x1="41.0" y1="509.5" x2="411.5" y2="509.5" stroke="#eeeeee" stroke-width="1"/><line x1="39.0" y1="509.5" x2="41.0" y2="509.5" stroke="#999" stroke-width="0.6"/><line x1="41.0" y1="487.1" x2="411.5" y2="487.1" stroke="#ebebeb" stroke-width="0.7" stroke-dasharray="1 1.2"/><line x1="39.8" y1="487.1" x2="41.0" y2="487.1" stroke="#999" stroke-width="0.6"/><line x1="41.0" y1="474.0" x2="411.5" y2="474.0" stroke="#ebebeb" stroke-width="0.7" stroke-dasharray="1 1.2"/><line x1="39.8" y1="474.0" x2="41.0" y2="474.0" stroke="#999" stroke-width="0.6"/><line x1="41.0" y1="464.6" x2="411.5" y2="464.6" stroke="#ebebeb" stroke-width="0.7" stroke-dasharray="1 1.2"/><line x1="39.8" y1="464.6" x2="41.0" y2="464.6" stroke="#999" stroke-width="0.6"/><line x1="41.0" y1="457.4" x2="411.5" y2="457.4" stroke="#ebebeb" stroke-width="0.7" stroke-dasharray="1 1.2"/><line x1="39.8" y1="457.4" x2="41.0" y2="457.4" stroke="#999" stroke-width="0.6"/><line x1="41.0" y1="451.5" x2="411.5" y2="451.5" stroke="#ebebeb" stroke-width="0.7" stroke-dasharray="1 1.2"/><line x1="39.8" y1="451.5" x2="41.0" y2="451.5" stroke="#999" stroke-width="0.6"/><line x1="41.0" y1="446.5" x2="411.5" y2="446.5" stroke="#ebebeb" stroke-width="0.7" stroke-dasharray="1 1.2"/><line x1="39.8" y1="446.5" x2="41.0" y2="446.5" stroke="#999" stroke-width="0.6"/><line x1="41.0" y1="442.2" x2="411.5" y2="442.2" stroke="#ebebeb" stroke-width="0.7" stroke-dasharray="1 1.2"/><line x1="39.8" y1="442.2" x2="41.0" y2="442.2" stroke="#999" stroke-width="0.6"/><line x1="41.0" y1="438.4" x2="411.5" y2="438.4" stroke="#ebebeb" stroke-width="0.7" stroke-dasharray="1 1.2"/><line x1="39.8" y1="438.4" x2="41.0" y2="438.4" stroke="#999" stroke-width="0.6"/><line x1="41.0" y1="435.0" x2="411.5" y2="435.0" stroke="#eeeeee" stroke-width="1"/><line x1="39.0" y1="435.0" x2="41.0" y2="435.0" stroke="#999" stroke-width="0.6"/><line x1="41.0" y1="412.6" x2="411.5" y2="412.6" stroke="#ebebeb" stroke-width="0.7" stroke-dasharray="1 1.2"/><line x1="39.8" y1="412.6" x2="41.0" y2="412.6" stroke="#999" stroke-width="0.6"/><line x1="41.0" y1="399.5" x2="411.5" y2="399.5" stroke="#ebebeb" stroke-width="0.7" stroke-dasharray="1 1.2"/><line x1="39.8" y1="399.5" x2="41.0" y2="399.5" stroke="#999" stroke-width="0.6"/><line x1="41.0" y1="390.1" x2="411.5" y2="390.1" stroke="#ebebeb" stroke-width="0.7" stroke-dasharray="1 1.2"/><line x1="39.8" y1="390.1" x2="41.0" y2="390.1" stroke="#999" stroke-width="0.6"/><line x1="41.0" y1="382.9" x2="411.5" y2="382.9" stroke="#ebebeb" stroke-width="0.7" stroke-dasharray="1 1.2"/><line x1="39.8" y1="382.9" x2="41.0" y2="382.9" stroke="#999" stroke-width="0.6"/><line x1="41.0" y1="377.0" x2="411.5" y2="377.0" stroke="#ebebeb" stroke-width="0.7" stroke-dasharray="1 1.2"/><line x1="39.8" y1="377.0" x2="41.0" y2="377.0" stroke="#999" stroke-width="0.6"/><line x1="41.0" y1="372.0" x2="411.5" y2="372.0" stroke="#ebebeb" stroke-width="0.7" stroke-dasharray="1 1.2"/><line x1="39.8" y1="372.0" x2="41.0" y2="372.0" stroke="#999" stroke-width="0.6"/><line x1="41.0" y1="367.7" x2="411.5" y2="367.7" stroke="#ebebeb" stroke-width="0.7" stroke-dasharray="1 1.2"/><line x1="39.8" y1="367.7" x2="41.0" y2="367.7" stroke="#999" stroke-width="0.6"/><line x1="41.0" y1="363.9" x2="411.5" y2="363.9" stroke="#ebebeb" stroke-width="0.7" stroke-dasharray="1 1.2"/><line x1="39.8" y1="363.9" x2="41.0" y2="363.9" stroke="#999" stroke-width="0.6"/><line x1="41.0" y1="360.5" x2="411.5" y2="360.5" stroke="#eeeeee" stroke-width="1"/><line x1="39.0" y1="360.5" x2="41.0" y2="360.5" stroke="#999" stroke-width="0.6"/><line x1="41.0" y1="338.1" x2="411.5" y2="338.1" stroke="#ebebeb" stroke-width="0.7" stroke-dasharray="1 1.2"/><line x1="39.8" y1="338.1" x2="41.0" y2="338.1" stroke="#999" stroke-width="0.6"/><line x1="41.0" y1="325.0" x2="411.5" y2="325.0" stroke="#ebebeb" stroke-width="0.7" stroke-dasharray="1 1.2"/><line x1="39.8" y1="325.0" x2="41.0" y2="325.0" stroke="#999" stroke-width="0.6"/><line x1="41.0" y1="315.6" x2="411.5" y2="315.6" stroke="#ebebeb" stroke-width="0.7" stroke-dasharray="1 1.2"/><line x1="39.8" y1="315.6" x2="41.0" y2="315.6" stroke="#999" stroke-width="0.6"/><line x1="41.0" y1="308.4" x2="411.5" y2="308.4" stroke="#ebebeb" stroke-width="0.7" stroke-dasharray="1 1.2"/><line x1="39.8" y1="308.4" x2="41.0" y2="308.4" stroke="#999" stroke-width="0.6"/><line x1="41.0" y1="302.5" x2="411.5" y2="302.5" stroke="#ebebeb" stroke-width="0.7" stroke-dasharray="1 1.2"/><line x1="39.8" y1="302.5" x2="41.0" y2="302.5" stroke="#999" stroke-width="0.6"/><line x1="41.0" y1="297.5" x2="411.5" y2="297.5" stroke="#ebebeb" stroke-width="0.7" stroke-dasharray="1 1.2"/><line x1="39.8" y1="297.5" x2="41.0" y2="297.5" stroke="#999" stroke-width="0.6"/><path d="M41.0 294.5H411.5V525.8" fill="none" stroke="#e2e2e2" stroke-width="1"/><path d="M41.0 294.5V525.8H411.5" fill="none" stroke="#a8a8a8" stroke-width="1"/><g clip-path="url(#cb)"><circle cx="43.8" cy="386" r="3.2" fill="#000000"/></g><circle cx="231.5" cy="366.3" r="3.2" fill="#fba21a"/><circle cx="147.6" cy="344.6" r="3.2" fill="#fba21a"/><circle cx="135.5" cy="352.5" r="3.2" fill="#fba21a"/><circle cx="153.6" cy="346.4" r="3.2" fill="#fba21a"/><circle cx="143.5" cy="369.3" r="3.2" fill="#fba21a"/><circle cx="72.5" cy="410" r="3.2" fill="#fba21a"/><circle cx="117.5" cy="349.5" r="3.2" fill="#fba21a"/><circle cx="131.8" cy="340.5" r="3.2" fill="#fba21a"/><circle cx="107" cy="376.3" r="3.2" fill="#fba21a"/><circle cx="112.5" cy="389.3" r="3.2" fill="#fba21a"/><circle cx="128.8" cy="388.8" r="3.2" fill="#fba21a"/><circle cx="128" cy="368.8" r="3.2" fill="#fba21a"/><circle cx="116.3" cy="409.5" r="3.2" fill="#fba21a"/><circle cx="122.5" cy="415" r="3.2" fill="#fba21a"/><circle cx="153" cy="402.5" r="3.2" fill="#fba21a"/><circle cx="165" cy="399.5" r="3.2" fill="#fba21a"/><circle cx="178.8" cy="399.5" r="3.2" fill="#fba21a"/><circle cx="140" cy="400" r="3.2" fill="#fba21a"/><circle cx="123.3" cy="416.8" r="3.2" fill="#fba21a"/><circle cx="253" cy="362.8" r="3.2" fill="#fba21a"/><circle cx="222" cy="384.5" r="3.2" fill="#fba21a"/><circle cx="204.5" cy="395.5" r="3.2" fill="#fba21a"/><circle cx="207.5" cy="398.8" r="3.2" fill="#fba21a"/><circle cx="182.8" cy="313" r="3.2" fill="#f5601f"/><circle cx="169.4" cy="323" r="3.2" fill="#f5601f"/><circle cx="150" cy="329.5" r="3.2" fill="#f5601f"/><circle cx="163" cy="351.2" r="3.2" fill="#f5601f"/><circle cx="173.8" cy="315" r="3.2" fill="#f5601f"/><circle cx="200" cy="308.8" r="3.2" fill="#f5601f"/><circle cx="183.8" cy="320" r="3.2" fill="#f5601f"/><circle cx="195" cy="318.8" r="3.2" fill="#f5601f"/><circle cx="193.8" cy="347.5" r="3.2" fill="#f5601f"/><circle cx="181" cy="350" r="3.2" fill="#f5601f"/><circle cx="122" cy="390" r="3.2" fill="#f5601f"/><circle cx="201.8" cy="366" r="3.2" fill="#cf0fd5"/><circle cx="206" cy="380.4" r="3.2" fill="#cf0fd5"/><circle cx="224" cy="379.3" r="3.2" fill="#cf0fd5"/><circle cx="246.8" cy="369.5" r="3.2" fill="#cf0fd5"/><circle cx="140" cy="372.5" r="3.2" fill="#cf0fd5"/><circle cx="155" cy="396" r="3.2" fill="#cf0fd5"/><circle cx="206" cy="360" r="3.2" fill="#cf0fd5"/><circle cx="214.5" cy="358" r="3.2" fill="#cf0fd5"/><circle cx="207.5" cy="372" r="3.2" fill="#cf0fd5"/><circle cx="243.8" cy="359" r="3.2" fill="#cf0fd5"/><circle cx="176" cy="387.5" r="3.2" fill="#cf0fd5"/><circle cx="357" cy="364.3" r="3.2" fill="#14f562"/><circle cx="369.5" cy="360.5" r="3.2" fill="#14f562"/><circle cx="367.5" cy="377" r="3.2" fill="#14f562"/><circle cx="376.5" cy="378.3" r="3.2" fill="#14f562"/><circle cx="379" cy="384.5" r="3.2" fill="#14f562"/><circle cx="357.5" cy="388" r="3.2" fill="#14f562"/><circle cx="393.3" cy="378.8" r="3.2" fill="#14f562"/><circle cx="400.8" cy="379.5" r="3.2" fill="#14f562"/><circle cx="374" cy="414" r="3.2" fill="#3d55d2"/><circle cx="343.3" cy="430" r="3.2" fill="#3d55d2"/><circle cx="357.8" cy="463" r="3.2" fill="#3d55d2"/><circle cx="330" cy="478.8" r="3.2" fill="#3d55d2"/><circle cx="281.3" cy="453.8" r="3.2" fill="#3d55d2"/><circle cx="245.5" cy="473.3" r="3.2" fill="#3d55d2"/><circle cx="281.3" cy="475" r="3.2" fill="#3d55d2"/><circle cx="293.3" cy="483" r="3.2" fill="#3d55d2"/><circle cx="285.8" cy="490.8" r="3.2" fill="#3d55d2"/><circle cx="280.5" cy="498.8" r="3.2" fill="#3d55d2"/><circle cx="305.5" cy="515" r="3.2" fill="#3d55d2"/><circle cx="288" cy="523" r="3.2" fill="#3d55d2"/><circle cx="298.8" cy="451.3" r="3.2" fill="#3d55d2"/><circle cx="285.5" cy="427" r="3.2" fill="#3d55d2"/><circle cx="181.2" cy="298.8" r="3.2" fill="#000000"/><circle cx="273.3" cy="411.3" r="3.2" fill="#000000"/><circle cx="283.3" cy="412.5" r="3.2" fill="#000000"/><circle cx="307.5" cy="408.8" r="3.2" fill="#000000"/><circle cx="285.5" cy="420.5" r="3.2" fill="#000000"/><circle cx="271.3" cy="431.3" r="3.2" fill="#000000"/><circle cx="275" cy="432.5" r="3.2" fill="#000000"/><circle cx="288" cy="432.5" r="3.2" fill="#000000"/><circle cx="303" cy="431.5" r="3.2" fill="#000000"/><circle cx="309.5" cy="440" r="3.2" fill="#000000"/><circle cx="332.3" cy="442.5" r="3.2" fill="#000000"/><circle cx="305" cy="462" r="3.2" fill="#000000"/><circle cx="290.8" cy="457" r="3.2" fill="#000000"/><circle cx="314.4" cy="486.6" r="3.2" fill="#000000"/><circle cx="339" cy="518.5" r="3.2" fill="#000000"/><circle cx="336.5" cy="365.8" r="3.2" fill="#000000"/><circle cx="370.3" cy="350.8" r="3.2" fill="#000000"/><circle cx="162.5" cy="375" r="3.2" fill="#000000"/><line x1="121.5" y1="390.6" x2="128" y2="389.4" stroke="#2f66ee" stroke-width="1.3" stroke-linecap="round"/><g filter="url(#heat)"><circle cx="180.8" cy="304.5" r="11.19" fill="url(#k)" opacity="0.38"/><circle cx="179.5" cy="309.5" r="9.48" fill="url(#k)" opacity="0.18"/><circle cx="177.5" cy="313" r="7.20" fill="url(#k)" opacity="0.12"/><circle cx="155.3" cy="336.7" r="7.20" fill="url(#k)" opacity="0.17"/><circle cx="158.7" cy="336.5" r="7.20" fill="url(#k)" opacity="0.17"/><circle cx="127.6" cy="369.5" r="6.60" fill="url(#k)" opacity="0.16"/><circle cx="126.5" cy="373.5" r="6.60" fill="url(#k)" opacity="0.16"/><circle cx="126" cy="405.5" r="9.60" fill="url(#k)" opacity="0.42"/><circle cx="131.5" cy="404.5" r="8.40" fill="url(#k)" opacity="0.2"/><circle cx="136.5" cy="403.5" r="7.80" fill="url(#k)" opacity="0.2"/><circle cx="140" cy="403" r="6.60" fill="url(#k)" opacity="0.14"/><circle cx="180.3" cy="328.2" r="10.86" fill="url(#k)" opacity="0.5"/><circle cx="177" cy="330.5" r="9.48" fill="url(#k)" opacity="0.2"/><circle cx="184" cy="326" r="9.48" fill="url(#k)" opacity="0.2"/><circle cx="189.5" cy="323.5" r="9.48" fill="url(#k)" opacity="0.2"/><circle cx="193.5" cy="321.8" r="7.20" fill="url(#k)" opacity="0.17"/><circle cx="166.5" cy="327.2" r="10.86" fill="url(#k)" opacity="0.32"/><circle cx="172" cy="328.5" r="9.48" fill="url(#k)" opacity="0.15"/><circle cx="185.4" cy="340.5" r="10.86" fill="url(#k)" opacity="0.33"/><circle cx="190.5" cy="342" r="8.82" fill="url(#k)" opacity="0.2"/><circle cx="181.5" cy="336" r="9.48" fill="url(#k)" opacity="0.2"/><circle cx="170.5" cy="341.5" r="10.86" fill="url(#k)" opacity="0.33"/><circle cx="174.5" cy="337" r="9.48" fill="url(#k)" opacity="0.2"/><circle cx="137.5" cy="358.6" r="12.60" fill="url(#k)" opacity="0.24"/><circle cx="143" cy="356.5" r="12.60" fill="url(#k)" opacity="0.14"/><circle cx="149" cy="351.5" r="11.40" fill="url(#k)" opacity="0.2"/><circle cx="149" cy="358.5" r="12.00" fill="url(#k)" opacity="0.18"/><circle cx="154.5" cy="359.5" r="11.40" fill="url(#k)" opacity="0.2"/><circle cx="133.5" cy="360.5" r="9.00" fill="url(#k)" opacity="0.1"/><circle cx="147.3" cy="348.3" r="9.00" fill="url(#k)" opacity="0.1"/><circle cx="156.5" cy="366.9" r="7.80" fill="url(#k)" opacity="0.55"/><circle cx="160" cy="366.9" r="7.80" fill="url(#k)" opacity="0.6"/><circle cx="163.5" cy="366.9" r="7.80" fill="url(#k)" opacity="0.75"/><circle cx="167" cy="366.9" r="7.80" fill="url(#k)" opacity="0.6"/><circle cx="170.3" cy="366.9" r="7.80" fill="url(#k)" opacity="0.5"/><circle cx="142.8" cy="379.7" r="9.00" fill="url(#k)" opacity="0.5"/><circle cx="137" cy="378.3" r="8.82" fill="url(#k)" opacity="0.15"/><circle cx="149" cy="380" r="10.17" fill="url(#k)" opacity="0.2"/><circle cx="155" cy="380.3" r="10.17" fill="url(#k)" opacity="0.28"/><circle cx="172" cy="378.7" r="10.86" fill="url(#k)" opacity="0.95"/><circle cx="163" cy="378" r="10.17" fill="url(#k)" opacity="0.3"/><circle cx="180.5" cy="378.7" r="10.17" fill="url(#k)" opacity="0.3"/><circle cx="188" cy="381.2" r="9.48" fill="url(#k)" opacity="0.45"/><circle cx="192.5" cy="381.2" r="9.48" fill="url(#k)" opacity="0.45"/><circle cx="183" cy="359.3" r="10.17" fill="url(#k)" opacity="0.5"/><circle cx="184" cy="366.9" r="10.17" fill="url(#k)" opacity="0.3"/><circle cx="177" cy="372.8" r="10.17" fill="url(#k)" opacity="0.3"/><circle cx="176" cy="362" r="8.82" fill="url(#k)" opacity="0.15"/><circle cx="157" cy="389.6" r="11.19" fill="url(#k)" opacity="0.36"/><circle cx="150" cy="386" r="10.17" fill="url(#k)" opacity="0.3"/><circle cx="155.3" cy="395.5" r="8.82" fill="url(#k)" opacity="0.2"/><circle cx="163" cy="385" r="10.17" fill="url(#k)" opacity="0.25"/><circle cx="146.8" cy="384.6" r="9.48" fill="url(#k)" opacity="0.2"/><circle cx="197.5" cy="373.5" r="10.17" fill="url(#k)" opacity="0.22"/><circle cx="200.5" cy="378" r="9.48" fill="url(#k)" opacity="0.2"/><circle cx="203" cy="368" r="6.60" fill="url(#k)" opacity="0.17"/><circle cx="204.3" cy="363" r="5.40" fill="url(#k)" opacity="0.15"/><circle cx="196" cy="381" r="8.82" fill="url(#k)" opacity="0.15"/><circle cx="203.5" cy="376" r="8.40" fill="url(#k)" opacity="0.16"/><circle cx="204.8" cy="371" r="7.20" fill="url(#k)" opacity="0.14"/><circle cx="227.3" cy="371.8" r="13.80" fill="url(#k)" opacity="0.29"/><circle cx="227.8" cy="371" r="7.50" fill="url(#k)" opacity="0.06"/><circle cx="244.3" cy="372.3" r="8.70" fill="url(#k)" opacity="0.27"/><circle cx="206.5" cy="399" r="6.90" fill="url(#k)" opacity="0.2"/><circle cx="204.5" cy="397" r="6.00" fill="url(#k)" opacity="0.12"/><circle cx="193.5" cy="347" r="6.60" fill="url(#k)" opacity="0.18"/><circle cx="374.5" cy="381.3" r="6.00" fill="url(#k)" opacity="0.2"/><circle cx="372.3" cy="379.3" r="5.40" fill="url(#k)" opacity="0.14"/><circle cx="376.8" cy="383.5" r="5.40" fill="url(#k)" opacity="0.14"/><circle cx="395.8" cy="379.5" r="6.00" fill="url(#k)" opacity="0.18"/><circle cx="393" cy="379.5" r="5.40" fill="url(#k)" opacity="0.12"/><circle cx="271.5" cy="431.3" r="6.00" fill="url(#k)" opacity="0.18"/><circle cx="274" cy="432.6" r="6.00" fill="url(#k)" opacity="0.18"/><circle cx="284.7" cy="431.5" r="6.90" fill="url(#k)" opacity="0.22"/><circle cx="284.8" cy="428" r="6.00" fill="url(#k)" opacity="0.16"/><circle cx="306.1" cy="446.1" r="8.40" fill="url(#k)" opacity="0.32"/><circle cx="305.5" cy="442" r="6.90" fill="url(#k)" opacity="0.14"/><circle cx="307" cy="450.5" r="6.90" fill="url(#k)" opacity="0.14"/><circle cx="315" cy="454.6" r="8.70" fill="url(#k)" opacity="0.4"/><circle cx="310.5" cy="453.5" r="7.20" fill="url(#k)" opacity="0.16"/><circle cx="318.8" cy="454.6" r="6.60" fill="url(#k)" opacity="0.16"/><circle cx="294" cy="456.2" r="7.80" fill="url(#k)" opacity="0.26"/><circle cx="291" cy="457" r="6.60" fill="url(#k)" opacity="0.12"/><circle cx="298.5" cy="455.5" r="6.60" fill="url(#k)" opacity="0.14"/><circle cx="302" cy="452.5" r="6.60" fill="url(#k)" opacity="0.14"/></g><line x1="40.7" y1="423.2" x2="409.5" y2="421.6" stroke="#000" stroke-width="1.8" stroke-dasharray="5.6 4.5"/><rect x="53.5" y="433.5" width="94.0" height="75.0" fill="#fff" stroke="#222" stroke-width="1"/><circle cx="66.8" cy="446.8" r="3.15" fill="#f5601f"/><text x="71.8" y="449.36" font-size="7.1" class="sa" fill="#0c0c0c" textLength="32.5" lengthAdjust="spacingAndGlyphs">BRSZ Unit 1</text><circle cx="66.8" cy="457.4" r="3.15" fill="#fba21a"/><text x="71.8" y="459.96" font-size="7.1" class="sa" fill="#0c0c0c" textLength="62" lengthAdjust="spacingAndGlyphs">BRSZ Unit 2 Formation</text><circle cx="66.8" cy="467.9" r="3.15" fill="#cf0fd5"/><text x="71.8" y="470.46" font-size="7.1" class="sa" fill="#0c0c0c" textLength="64" lengthAdjust="spacingAndGlyphs">Gua Musang Formation</text><circle cx="66.8" cy="478.4" r="3.15" fill="#14f562"/><text x="71.8" y="480.96" font-size="7.1" class="sa" fill="#0c0c0c" textLength="45.2" lengthAdjust="spacingAndGlyphs">Karak Formation</text><circle cx="66.8" cy="488.9" r="3.15" fill="#3d55d2"/><text x="71.8" y="491.46" font-size="7.1" class="sa" fill="#0c0c0c" textLength="59.5" lengthAdjust="spacingAndGlyphs">Selinsing gold deposit</text><circle cx="66.8" cy="499.4" r="3.15" fill="#000000"/><text x="71.8" y="501.96" font-size="7.1" class="sa" fill="#0c0c0c" textLength="57.5" lengthAdjust="spacingAndGlyphs">Semantan Formation</text><text x="80.5" y="535.0" font-size="6.4" class="sa" text-anchor="middle" fill="#222">1</text><text x="108.8" y="535.0" font-size="6.4" class="sa" text-anchor="middle" fill="#222">2</text><text x="125.3" y="535.0" font-size="6.4" class="sa" text-anchor="middle" fill="#222">3</text><text x="137.0" y="535.0" font-size="6.4" class="sa" text-anchor="middle" fill="#222">4</text><text x="146.1" y="535.0" font-size="6.4" class="sa" text-anchor="middle" fill="#222">5</text><text x="174.4" y="535.0" font-size="6.4" class="sa" text-anchor="middle" fill="#222">10</text><text x="202.7" y="535.0" font-size="6.4" class="sa" text-anchor="middle" fill="#222">20</text><text x="219.2" y="535.0" font-size="6.4" class="sa" text-anchor="middle" fill="#222">30</text><text x="268.3" y="535.0" font-size="6.4" class="sa" text-anchor="middle" fill="#222">100</text><text x="296.6" y="535.0" font-size="6.4" class="sa" text-anchor="middle" fill="#222">200</text><text x="362.2" y="535.0" font-size="6.4" class="sa" text-anchor="middle" fill="#222">1000</text><text x="37.5" y="362.8" font-size="6.3" class="sa" text-anchor="end" fill="#222">100</text><text x="37.5" y="437.3" font-size="6.3" class="sa" text-anchor="end" fill="#222">10</text><text x="37.5" y="511.8" font-size="6.3" class="sa" text-anchor="end" fill="#222">1</text><text x="44.6" y="305.3" font-size="9.5" class="se">B</text><text x="174" y="544.7" font-size="11.2" class="se" textLength="47.2" lengthAdjust="spacingAndGlyphs">Co (ppm)</text><text transform="translate(16,417) rotate(-90)" font-size="11.2" class="se" textLength="45.2" lengthAdjust="spacingAndGlyphs">Se (ppm)</text><text x="234.5" y="317" font-size="10.4" class="sb" textLength="104.5" lengthAdjust="spacingAndGlyphs">Highly prospective</text><text x="274.5" y="332" font-size="10.4" class="sb" textLength="24.5" lengthAdjust="spacingAndGlyphs">field</text></svg>
</body></html>
